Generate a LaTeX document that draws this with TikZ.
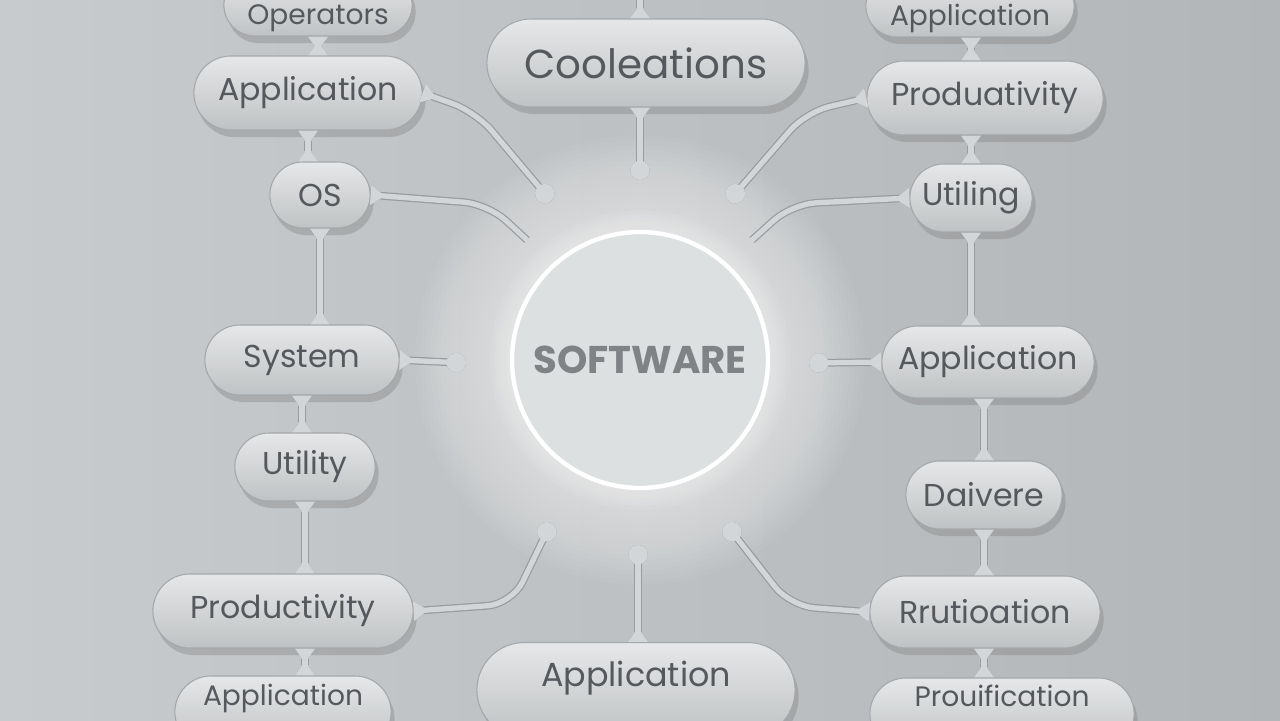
\documentclass[tikz,border=0pt]{standalone}
\usepackage{fontspec}
\setmainfont{Poppins}
\usepackage{tikz}
\usetikzlibrary{shapes.misc,arrows.meta,shadows}
\definecolor{wall}{HTML}{C8CBCD}
\definecolor{wallright}{HTML}{B3B6B8}
\definecolor{plate}{HTML}{D0D3D5}
\definecolor{plateedge}{HTML}{A4A8AB}
\definecolor{ink}{HTML}{55595D}
\definecolor{pipe}{HTML}{D3D6D8}
\definecolor{pipeedge}{HTML}{989C9F}
\definecolor{core}{HTML}{DDE0E1}
\newcommand\lift[2]{\raisebox{#1}[0pt][0pt]{#2}}

\begin{document}
\begin{tikzpicture}[x=0.02cm,y=-0.02cm,
  pill/.style={rounded rectangle, draw=plateedge, line width=0.6pt,
    top color=plate!55!white, bottom color=plate!92!black, text=ink,
    font=\fontsize{18}{20}\selectfont,
    drop shadow={shadow xshift=2pt, shadow yshift=-4pt, opacity=0.38}},
  hub/.style={circle, minimum size=5.12cm, fill=core, draw=white, line width=2.5pt,
    text=ink!75, font=\fontsize{22}{24}\selectfont\bfseries},
  link/.style={line width=3pt, draw=pipe, line cap=round,
    preaction={draw=pipeedge, line width=4.4pt}},
  flare/.tip={Triangle[reversed, width=11pt, length=8pt]},
  knob/.tip={Circle[length=11pt]}]
\useasboundingbox (0,0) rectangle (1280,720);
\clip (0,0) rectangle (1280,720);
\shade[left color=wall, right color=wallright] (0,0) rectangle (1280,720);
\foreach \r in {225,220,...,135}
  \fill[white, opacity=0.04] (640,360) circle (\r);
\foreach \r in {150,146,...,132}
  \fill[white, opacity=0.06] (640,360) circle (\r);

\node[hub] (hub) at (640,360) {SOFTWARE};

\node[pill, minimum width=4cm, minimum height=1.24cm, font=\fontsize{16}{18}\selectfont] (L0) at (318,5) {\lift{-11pt}{Operators}};
\node[pill, minimum width=4.8cm, minimum height=1.48cm] (L1) at (308,93) {Application};
\node[pill, minimum width=2.24cm, minimum height=1.32cm] (L2) at (320,195) {OS};
\node[pill, minimum width=4.12cm, minimum height=1.4cm] (L3) at (302,360) {System};
\node[pill, minimum width=3.04cm, minimum height=1.36cm] (L4) at (305,467) {Utility};
\node[pill, minimum width=5.44cm, minimum height=1.48cm] (L5) at (283,611) {Productivity};
\node[pill, minimum width=4.56cm, minimum height=1.44cm, font=\fontsize{16}{18}\selectfont] (L6) at (283,712) {\lift{3.5pt}{Application}};

\node[pill, minimum width=6.6cm, minimum height=1.76cm, font=\fontsize{23}{25}\selectfont] (C0) at (646,63) {Cooleations};
\node[pill, minimum width=6.6cm, minimum height=1.9cm, font=\fontsize{19}{21}\selectfont] (C1) at (636,690) {\lift{2pt}{Application}};

\node[pill, minimum width=4.4cm, minimum height=1.24cm, font=\fontsize{16}{18}\selectfont] (R0) at (970,6) {\lift{-11pt}{Application}};
\node[pill, minimum width=4.96cm, minimum height=1.48cm] (R1) at (985,98) {Produativity};
\node[pill, minimum width=2.68cm, minimum height=1.36cm] (R2) at (971,198) {Utiling};
\node[pill, minimum width=4.48cm, minimum height=1.44cm] (R3) at (988,362) {Application};
\node[pill, minimum width=3.36cm, minimum height=1.36cm] (R4) at (984,495) {Daivere};
\node[pill, minimum width=4.84cm, minimum height=1.44cm] (R5) at (985,612) {Rrutioation};
\node[pill, minimum width=5.52cm, minimum height=1.44cm, font=\fontsize{16}{18}\selectfont] (R6) at (1002,714) {\lift{4pt}{Prouification}};

\coordinate (d1) at (551,201);
\coordinate (d2) at (640,180);
\coordinate (d3) at (729,201);
\coordinate (d4) at (466,363);
\coordinate (d5) at (809,363);
\coordinate (d6) at (551,523);
\coordinate (d7) at (638,545);
\coordinate (d8) at (726,524);
\coordinate (e1) at (527,240);
\coordinate (e2) at (752,240);
\coordinate (t1) at (640,-4);

\draw[link, flare-flare] (L0.south) -- (L0.south |- L1.north);
\draw[link, flare-flare] (L1.south) -- (L1.south |- L2.north);
\draw[link, flare-flare] (L2.south) -- (L2.south |- L3.north);
\draw[link, flare-flare] (L3.south) -- (L3.south |- L4.north);
\draw[link, flare-flare] (L4.south) -- (L4.south |- L5.north);
\draw[link, flare-flare] (L5.south -| L4.south) -- (L6.north -| L4.south);

\draw[link, flare-flare] (R0.south -| R2.north) -- (R1.north -| R2.north);
\draw[link, flare-flare] (R1.south -| R2.north) -- (R2.north);
\draw[link, flare-flare] (R2.south) -- (R2.south |- R3.north);
\draw[link, flare-flare] (R3.south -| R4.north) -- (R4.north);
\draw[link, flare-flare] (R4.south) -- (R4.south |- R5.north);
\draw[link, flare-flare] (R5.south -| R4.south) -- (R6.north -| R4.south);

\draw[link, flare-] (C0.north -| t1) -- (t1);
\draw[link, knob-flare, rounded corners=14pt] (d1) -- (476,112) -- (L1.east);
\draw[link, knob-flare] (d2) -- (d2 |- C0.south);
\draw[link, knob-flare, rounded corners=14pt] (d3) -- (806,112) -- (R1.west);
\draw[link, flare-, rounded corners=14pt] (L2.east) -- (488,204) -- (e1);
\draw[link, flare-, rounded corners=14pt] (R2.west) -- (792,204) -- (e2);
\draw[link, knob-flare] (d4) -- (L3.east);
\draw[link, knob-flare] (d5) -- (R3.west);
\draw[link, knob-flare, rounded corners=14pt] (d6) -- (512,604) -- (L5.east);
\draw[link, knob-flare] (d7) -- (d7 |- C1.north);
\draw[link, knob-flare, rounded corners=14pt] (d8) -- (790,606) -- (R5.west);
\end{tikzpicture}
\end{document}
